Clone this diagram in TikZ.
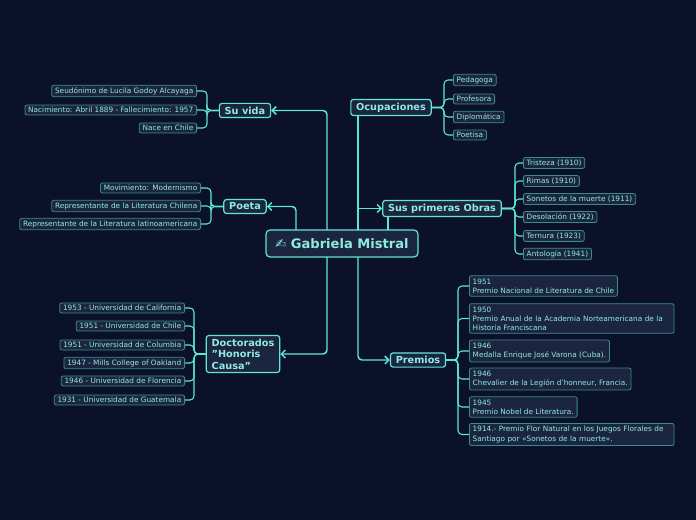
\documentclass[tikz,border=0pt]{standalone}
\usepackage{fontspec}
\setmainfont{DejaVu Sans}
\usetikzlibrary{arrows.meta}
\definecolor{bg}{HTML}{0B1129}
\definecolor{fillc}{HTML}{1C2540}
\definecolor{edge}{HTML}{5EE6D8}
\definecolor{leafedge}{HTML}{3A8C8C}
\definecolor{txt}{HTML}{8FEBE0}
\begin{document}
\begin{tikzpicture}[x=0.75pt,y=-0.75pt,
  leaf/.style={draw=leafedge,fill=fillc,text=txt,rounded corners=1.5pt,line width=0.6pt,inner xsep=2.5pt,inner ysep=1.6pt,font=\fontsize{5.5}{6.8}\selectfont,align=left},
  cat/.style={draw=edge,fill=fillc,text=txt,rounded corners=2pt,line width=0.9pt,inner xsep=4pt,inner ysep=2.5pt,font=\fontsize{7.3}{8.6}\selectfont\bfseries,align=left},
  mainc/.style={draw=edge,line width=1.1pt,rounded corners=3pt,-{Straight Barb[length=3pt,width=6pt]}},
  sub/.style={draw=edge,line width=0.8pt,rounded corners=3pt}]
\fill[bg] (0,0) rectangle (696,520);
\useasboundingbox (0,0) rectangle (696,520);
\node[cat,font=\fontsize{9.8}{11}\selectfont\bfseries,minimum width=152*0.75pt,minimum height=27*0.75pt,rounded corners=3pt] (main) at (342,243.5) {✍ Gabriela Mistral};
\node[cat] (vida) at (245,110.5) {Su vida};
\node[cat] (poeta) at (245,206.5) {Poeta};
\node[cat] (doc) at (243,354) {Doctorados\\''Honoris\\Causa''};
\node[cat] (ocu) at (391,107.5) {Ocupaciones};
\node[cat] (sus) at (442,208.5) {Sus primeras Obras};
\node[cat] (prem) at (418,360) {Premios};
% main connectors
\draw[mainc] (327,230) |- (vida.east);
\draw[mainc] (296,230) |- (poeta.east);
\draw[mainc] (327,257) |- (doc.east);
\draw[mainc] (358,257) |- (prem.west);
\draw[sub,line width=1.1pt] (358,230) -- (ocu.south -| 358,0);
\draw[mainc] (358,208.5) -- (sus.west);
\draw[sub,line width=1.1pt] (388,230) -- (sus.south -| 388,0);
% Su vida leaves
\node[leaf,anchor=east] (v1) at (197,91) {Seudónimo de Lucila Godoy Alcayaga};
\node[leaf,anchor=east] (v2) at (197,110) {Nacimiento: Abril 1889 - Fallecimiento: 1957};
\node[leaf,anchor=east] (v3) at (197,128) {Nace en Chile};
\foreach \l in {v1,v2,v3} \draw[sub] (vida.west) -- (207,110.5) |- (\l.east);
% Poeta leaves
\node[leaf,anchor=east] (p1) at (201,188) {Movimiento: Modernismo};
\node[leaf,anchor=east] (p2) at (201,206) {Representante de la Literatura Chilena};
\node[leaf,anchor=east] (p3) at (201,224) {Representante de la Literatura latinoamericana};
\foreach \l in {p1,p2,p3} \draw[sub] (poeta.west) -- (211,206.5) |- (\l.east);
% Doctorados leaves
\node[leaf,anchor=east] (d1) at (185,308) {1953 - Universidad de California};
\node[leaf,anchor=east] (d2) at (185,326) {1951 - Universidad de Chile};
\node[leaf,anchor=east] (d3) at (185,345) {1951 - Universidad de Columbia};
\node[leaf,anchor=east] (d4) at (185,363) {1947 - Mills College of Oakland};
\node[leaf,anchor=east] (d5) at (185,381) {1946 - Universidad de Florencia};
\node[leaf,anchor=east] (d6) at (185,400) {1931 - Universidad de Guatemala};
\foreach \l in {d1,d2,d3,d4,d5,d6} \draw[sub] (doc.west) -- (194,354) |- (\l.east);
% Ocupaciones leaves
\node[leaf,anchor=west] (o1) at (453,80) {Pedagoga};
\node[leaf,anchor=west] (o2) at (453,99) {Profesora};
\node[leaf,anchor=west] (o3) at (453,117) {Diplomática};
\node[leaf,anchor=west] (o4) at (453,135) {Poetisa};
\foreach \l in {o1,o2,o3,o4} \draw[sub] (ocu.east) -- (444,107.5) |- (\l.west);
% Sus primeras Obras leaves
\node[leaf,anchor=west] (s1) at (523,163) {Tristeza (1910)};
\node[leaf,anchor=west] (s2) at (523,181) {Rimas (1910)};
\node[leaf,anchor=west] (s3) at (523,199) {Sonetos de la muerte (1911)};
\node[leaf,anchor=west] (s4) at (523,217) {Desolación (1922)};
\node[leaf,anchor=west] (s5) at (523,236) {Ternura (1923)};
\node[leaf,anchor=west] (s6) at (523,254) {Antología (1941)};
\foreach \l in {s1,s2,s3,s4,s5,s6} \draw[sub] (sus.east) -- (515,208.5) |- (\l.west);
% Premios leaves
\node[leaf,anchor=west,inner ysep=2.2pt] (r1) at (469,286) {1951\\Premio Nacional de Literatura de Chile};
\node[leaf,anchor=west,inner ysep=2.2pt,text width=198*0.75pt] (r2) at (469,318.5) {1950\\Premio Anual de la Academia Norteamericana de la\\Historia Franciscana};
\node[leaf,anchor=west,inner ysep=2.2pt] (r3) at (469,351) {1946\\Medalla Enrique José Varona (Cuba).};
\node[leaf,anchor=west,inner ysep=2.2pt] (r4) at (469,379) {1946\\Chevalier de la Legión d'honneur, Francia.};
\node[leaf,anchor=west,inner ysep=2.2pt] (r5) at (469,407) {1945\\Premio Nobel de Literatura.};
\node[leaf,anchor=west,inner ysep=2.2pt,text width=198*0.75pt] (r6) at (469,434.5) {1914.- Premio Flor Natural en los Juegos Florales de\\Santiago por «Sonetos de la muerte».};
\foreach \l in {r1,r2,r3,r4,r5,r6} \draw[sub] (prem.east) -- (458,360) |- (\l.west);
\end{tikzpicture}
\end{document}
